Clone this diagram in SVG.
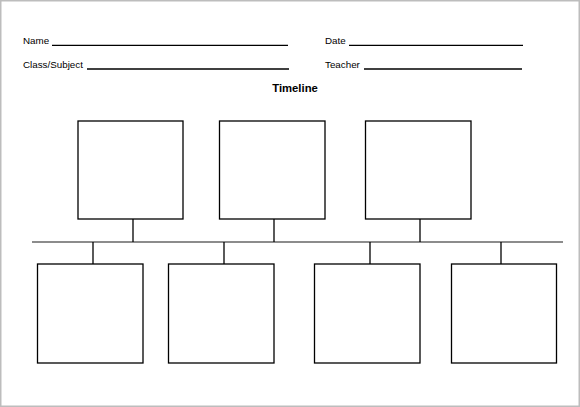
<svg xmlns="http://www.w3.org/2000/svg" width="580" height="407" viewBox="0 0 580 407">
<style>
.lbl{font-family:"Liberation Sans",Arial,sans-serif;font-size:9.8px;fill:#000}
.title{font-family:"Liberation Sans",Arial,sans-serif;font-size:11.3px;font-weight:bold;fill:#000}
.fill{stroke:#000;stroke-width:1.3}
.box{fill:#fff;stroke:#000;stroke-width:1.3}
.conn{stroke:#000;stroke-width:1.3;fill:none}
</style>
<rect x="0" y="0" width="580" height="407" fill="#fff"/>
<rect x="0.75" y="0.75" width="578.5" height="405.5" fill="none" stroke="#bdbdbd" stroke-width="1.5"/>
<g id="header">
<text class="lbl" x="23" y="44">Name</text>
<line class="fill" x1="52" y1="45.3" x2="288" y2="45.3"/>
<text class="lbl" x="23" y="68">Class/Subject</text>
<line class="fill" x1="87" y1="69" x2="289" y2="69"/>
<text class="lbl" x="325" y="44">Date</text>
<line class="fill" x1="349" y1="45.3" x2="523" y2="45.3"/>
<text class="lbl" x="325" y="68">Teacher</text>
<line class="fill" x1="364" y1="69" x2="522" y2="69"/>
<text class="title" x="295" y="92" text-anchor="middle">Timeline</text>
</g>
<g id="connectors">
<line x1="32" y1="242" x2="563" y2="242" stroke="#8c8c8c" stroke-width="1.8"/>
<line class="conn" x1="133" y1="219" x2="133" y2="242"/>
<line class="conn" x1="274" y1="219" x2="274" y2="242"/>
<line class="conn" x1="420" y1="219" x2="420" y2="242"/>
<line class="conn" x1="93" y1="242" x2="93" y2="264"/>
<line class="conn" x1="224" y1="242" x2="224" y2="264"/>
<line class="conn" x1="370" y1="242" x2="370" y2="264"/>
<line class="conn" x1="501" y1="242" x2="501" y2="264"/>
</g>
<g id="top1"><rect class="box" x="78" y="121" width="105" height="98"/></g>
<g id="top2"><rect class="box" x="219.5" y="121" width="105.5" height="98"/></g>
<g id="top3"><rect class="box" x="365.5" y="121" width="105.5" height="98"/></g>
<g id="bottom1"><rect class="box" x="37.5" y="264" width="105.5" height="99"/></g>
<g id="bottom2"><rect class="box" x="168.5" y="264" width="105.5" height="99"/></g>
<g id="bottom3"><rect class="box" x="314.5" y="264" width="105.5" height="99"/></g>
<g id="bottom4"><rect class="box" x="451.5" y="264" width="105" height="99"/></g>
</svg>
